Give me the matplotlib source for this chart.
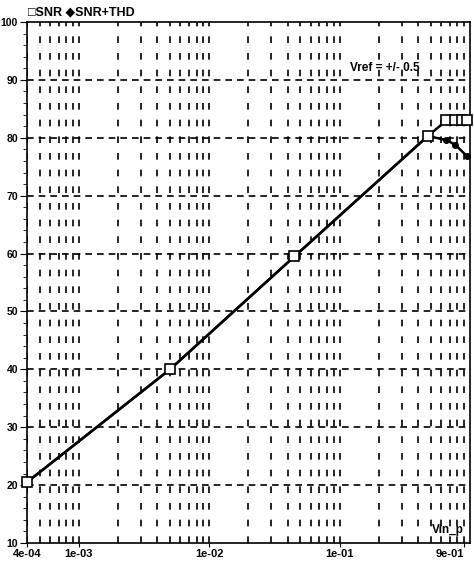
import matplotlib
matplotlib.use("Agg")
import matplotlib.pyplot as plt
from matplotlib.ticker import FixedLocator, MultipleLocator
import numpy as np

plt.rcParams['font.family'] = ['Liberation Sans', 'DejaVu Sans']
plt.rcParams['font.weight'] = 'bold'

snr_x = [4e-4, 5e-3, 4.5e-2, 0.475, 0.66, 0.77, 0.87, 0.95]
snr_y = [20.5, 40.0, 59.5, 80.3, 83.0, 83.1, 83.1, 83.1]
thd_x = [4e-4, 5e-3, 4.5e-2, 0.475, 0.66, 0.77, 0.95]
thd_y = [20.5, 40.0, 59.5, 80.3, 79.6, 78.8, 76.8]
xtick_vals = [4e-4, 1e-3, 1e-2, 1e-1, 9e-1]
xtick_labels = ['4e-04', '1e-03', '1e-02', '1e-01', '9e-01']

fig = plt.figure(figsize=(4.74, 5.62), dpi=100)
ax = fig.add_axes([27/474, 1-543/562, 443/474, 521/562])
ax.set_xscale('log')
ax.set_xlim(4e-4, 1.0)
ax.set_ylim(10, 100)

grid_x = [m * 10.0**e for e in range(-4, 1) for m in range(1, 10)]
grid_x = [g for g in grid_x if 4e-4 <= g <= 0.95]
for g in grid_x:
    ax.axvline(g, color='black', lw=1.2, ls=(0, (4, 6)), zorder=1)
for yv in range(20, 100, 10):
    ax.axhline(yv, color='black', lw=1.2, ls=(0, (4, 3)), zorder=1)

ax.plot(thd_x, thd_y, color='black', lw=1.8, marker='o', ms=4, zorder=3, clip_on=False)
ax.plot(snr_x, snr_y, color='black', lw=1.8, marker='s', ms=7, mfc='white', mew=1.2, zorder=4, clip_on=False)

ax.xaxis.set_major_locator(FixedLocator(xtick_vals))
ax.set_xticklabels(xtick_labels, fontsize=8, fontweight='bold')
ax.get_xticklabels()[-1].set_horizontalalignment('right')
ax.xaxis.set_minor_locator(FixedLocator([]))
ax.yaxis.set_major_locator(MultipleLocator(10))
ax.yaxis.set_minor_locator(MultipleLocator(2))
ax.tick_params(axis='y', which='major', length=5, labelsize=7.5, pad=1.5)
ax.tick_params(axis='y', which='minor', length=3)
ax.tick_params(axis='x', length=3, labelsize=8, pad=1)
for lbl in ax.get_yticklabels():
    lbl.set_fontweight('bold')
for s in ax.spines.values():
    s.set_linewidth(1.2)

ax.text(0.73, 0.905, 'Vref = +/- 0.5', transform=ax.transAxes, fontsize=8.5, fontweight='bold')
ax.text(0.985, 0.02, 'Vin_p', transform=ax.transAxes, fontsize=8.5, fontweight='bold', ha='right')
fig.text(28/474, 1-12/562, '\u25a1SNR \u25c6SNR+THD', fontsize=9, fontweight='bold', va='center')

fig.savefig('out.png', dpi=100)
